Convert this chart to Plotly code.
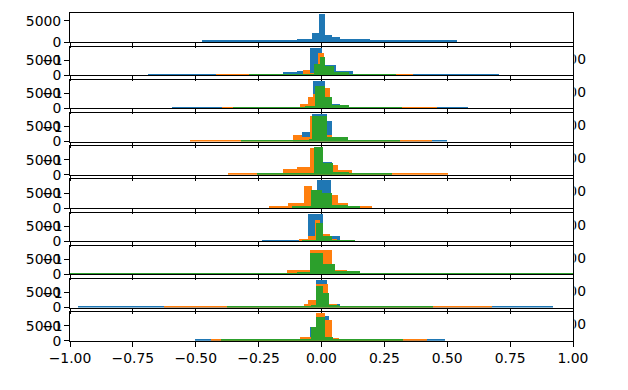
import plotly.graph_objects as go

# ---------------- data: histogram bin edges and counts per panel ----------------
# panel 1 (blue only)
p1_blue_edges = [-0.476, -0.099, -0.039, -0.008, 0.012, 0.041, 0.074, 0.193, 0.538]
p1_blue_counts = [450, 700, 1950, 6420, 1480, 1170, 700, 450]

# panel 2
p2_blue_edges = [-0.69, -0.152, -0.099, -0.046, 0.002, 0.058, 0.125, 0.706]
p2_blue_counts = [600, 1400, 1730, 9100, 3700, 1500, 600]
p2_orange_edges = [-0.42, -0.074, -0.046, -0.014, 0.01, 0.04, 0.11, 0.364]
p2_orange_counts = [600, 1900, 800, 7700, 2500, 1000, 600]
p2_green_edges = [-0.29, -0.03, -0.006, 0.014, 0.05, 0.11, 0.296]
p2_green_counts = [600, 4000, 6100, 3200, 1300, 600]

# panel 3
p3_blue_edges = [-0.596, -0.085, -0.034, 0.014, 0.041, 0.074, 0.583]
p3_blue_counts = [600, 1500, 9100, 3000, 1650, 600]
p3_orange_edges = [-0.396, -0.085, -0.054, -0.034, 0.014, 0.034, 0.074, 0.458]
p3_orange_counts = [600, 1600, 3900, 5000, 6900, 1300, 600]
p3_green_edges = [-0.352, -0.066, -0.026, 0.014, 0.04, 0.11, 0.32]
p3_green_counts = [600, 1000, 7500, 4000, 1100, 600]

# panel 4
p4_blue_edges = [-0.112, -0.079, -0.039, 0.02, 0.04, 0.1, 0.498]
p4_blue_counts = [1500, 3300, 9100, 7060, 1500, 600]
p4_orange_edges = [-0.523, -0.112, -0.079, -0.046, 0.02, 0.04, 0.1, 0.438]
p4_orange_counts = [600, 2300, 1500, 8700, 2200, 1500, 600]
p4_green_edges = [-0.321, -0.046, -0.039, 0.02, 0.04, 0.106, 0.312]
p4_green_counts = [600, 1000, 8700, 1500, 1500, 600]

# panel 5
p5_blue_edges = [-0.046, 0.006, 0.04]
p5_blue_counts = [8000, 4250]
p5_orange_edges = [-0.373, -0.152, -0.099, -0.046, -0.006, 0.067, 0.12, 0.502]
p5_orange_counts = [600, 1770, 2600, 8800, 3200, 1500, 600]
p5_green_edges = [-0.255, -0.03, 0.006, 0.046, 0.11, 0.28]
p5_green_counts = [600, 9100, 4000, 1000, 600]

# panel 6
p6_blue_edges = [-0.018, 0.036]
p6_blue_counts = [9100]
p6_orange_edges = [-0.208, -0.132, -0.07, -0.036, 0.036, 0.067, 0.107, 0.2]
p6_orange_counts = [650, 1440, 7400, 4000, 4150, 1440, 650]
p6_green_edges = [-0.118, -0.04, 0.002, 0.042, 0.107, 0.153]
p6_green_counts = [600, 5900, 4900, 900, 600]

# panel 7
p7_blue_edges = [-0.238, -0.052, 0.007, 0.034, 0.074, 0.125]
p7_blue_counts = [600, 9100, 2450, 1900, 600]
p7_orange_edges = [-0.09, -0.052, -0.026, -0.006, 0.007, 0.034, 0.06]
p7_orange_counts = [900, 2000, 7350, 3500, 2450, 900]
p7_green_edges = [-0.079, -0.02, 0.007, 0.04, 0.133]
p7_green_counts = [600, 6200, 1800, 600]

# panel 8
p8_blue_edges = [-0.03, 0.0]
p8_blue_counts = [600]
p8_orange_edges = [-0.589, -0.136, -0.046, 0.04, 0.1]
p8_orange_counts = [600, 1470, 8340, 1470]
p8_green_edges = [-1.0, -0.099, -0.044, 0.007, 0.053, 0.153, 1.0]
p8_green_counts = [600, 980, 7200, 3430, 1240, 600]

# panel 9
p9_blue_edges = [-0.97, -0.07, -0.022, 0.02, 0.046, 0.074, 0.92]
p9_blue_counts = [600, 1400, 9100, 1400, 1200, 600]
p9_orange_edges = [-0.625, -0.07, -0.052, -0.02, 0.026, 0.06, 0.677]
p9_orange_counts = [600, 1400, 2500, 7850, 1400, 600]
p9_green_edges = [-0.377, -0.04, -0.02, 0.005, 0.03, 0.07, 0.445]
p9_green_counts = [600, 1000, 7200, 5000, 1000, 600]

# panel 10
p10_blue_edges = [-0.503, -0.046, -0.034, 0.014, 0.031, 0.05, 0.49]
p10_blue_counts = [600, 4580, 4000, 8100, 1000, 600]
p10_orange_edges = [-0.44, -0.085, -0.02, 0.014, 0.04, 0.07, 0.418]
p10_orange_counts = [600, 1300, 9100, 6800, 1000, 600]
p10_green_edges = [-0.40, -0.04, -0.02, 0.014, 0.046, 0.324]
p10_green_counts = [600, 4580, 7850, 1300, 600]

PANEL_DATA = [
    [("#1f77b4", p1_blue_edges, p1_blue_counts)],
    [("#1f77b4", p2_blue_edges, p2_blue_counts), ("#ff7f0e", p2_orange_edges, p2_orange_counts), ("#2ca02c", p2_green_edges, p2_green_counts)],
    [("#1f77b4", p3_blue_edges, p3_blue_counts), ("#ff7f0e", p3_orange_edges, p3_orange_counts), ("#2ca02c", p3_green_edges, p3_green_counts)],
    [("#1f77b4", p4_blue_edges, p4_blue_counts), ("#ff7f0e", p4_orange_edges, p4_orange_counts), ("#2ca02c", p4_green_edges, p4_green_counts)],
    [("#1f77b4", p5_blue_edges, p5_blue_counts), ("#ff7f0e", p5_orange_edges, p5_orange_counts), ("#2ca02c", p5_green_edges, p5_green_counts)],
    [("#1f77b4", p6_blue_edges, p6_blue_counts), ("#ff7f0e", p6_orange_edges, p6_orange_counts), ("#2ca02c", p6_green_edges, p6_green_counts)],
    [("#1f77b4", p7_blue_edges, p7_blue_counts), ("#ff7f0e", p7_orange_edges, p7_orange_counts), ("#2ca02c", p7_green_edges, p7_green_counts)],
    [("#1f77b4", p8_blue_edges, p8_blue_counts), ("#ff7f0e", p8_orange_edges, p8_orange_counts), ("#2ca02c", p8_green_edges, p8_green_counts)],
    [("#1f77b4", p9_blue_edges, p9_blue_counts), ("#ff7f0e", p9_orange_edges, p9_orange_counts), ("#2ca02c", p9_green_edges, p9_green_counts)],
    [("#1f77b4", p10_blue_edges, p10_blue_counts), ("#ff7f0e", p10_orange_edges, p10_orange_counts), ("#2ca02c", p10_green_edges, p10_green_counts)],
]
Y_MAX = [6740, 9575, 9575, 9575, 9575, 9575, 9575, 9575, 9575, 9575]
X_TICKS = [-1.0, -0.75, -0.5, -0.25, 0.0, 0.25, 0.5, 0.75, 1.0]
X_TICK_LABELS = ["\u22121.00", "\u22120.75", "\u22120.50", "\u22120.25", "0.00", "0.25", "0.50", "0.75", "1.00"]
Y_TICKS = [0, 5000]
Y_TICK_LABELS = ["0", "5000"]
LEFT_EXTRA_LABEL = "\u22121"
RIGHT_EXTRA_LABEL = "00"

# ---------------- layout geometry ----------------
# the page body adds an 8px offset, so the figure is 8px smaller and coordinates shifted
OFF = 8
W, H = 628 - OFF, 390 - OFF
LEFT, RIGHT = 70 - OFF, 573 - OFF
TOP0, PITCH, AX_H = 13.3 - OFF, 33.2, 28.7
FONT = dict(family="DejaVu Sans", size=13.9, color="black")

fig = go.Figure()
layout = dict(
    width=W, height=H, margin=dict(l=0, r=0, t=0, b=0, autoexpand=False),
    paper_bgcolor="white", plot_bgcolor="white",
    showlegend=False, barmode="overlay", bargap=0, font=FONT,
)
annotations = []
right_x, right_y = [], []
n = len(PANEL_DATA)
for i in range(n):
    k = i + 1
    xa = "x" if k == 1 else f"x{k}"
    ya = "y" if k == 1 else f"y{k}"
    for color, edges, counts in PANEL_DATA[i]:
        centers = [(edges[j] + edges[j + 1]) / 2 for j in range(len(counts))]
        widths = [edges[j + 1] - edges[j] for j in range(len(counts))]
        fig.add_trace(go.Bar(
            x=centers, y=counts, width=widths, marker=dict(color=color, line=dict(width=0)),
            opacity=1, xaxis=xa, yaxis=ya, hoverinfo="skip",
        ))
    top = TOP0 + PITCH * i
    bot = top + AX_H
    layout["xaxis" if k == 1 else f"xaxis{k}"] = dict(
        domain=[LEFT / W, RIGHT / W], anchor=ya, range=[-1, 1], automargin=False,
        tickvals=X_TICKS, ticktext=X_TICK_LABELS, showticklabels=(k == n),
        ticks="outside", ticklen=5, tickwidth=1, tickcolor="black",
        showline=True, linecolor="black", linewidth=1, mirror=True,
        showgrid=False, zeroline=False, tickfont=FONT,
    )
    layout["yaxis" if k == 1 else f"yaxis{k}"] = dict(
        domain=[1 - bot / H, 1 - top / H], anchor=xa, range=[0, Y_MAX[i]], automargin=False,
        tickvals=Y_TICKS, ticktext=Y_TICK_LABELS,
        ticks="outside", ticklen=5, tickwidth=1, tickcolor="black",
        showline=True, linecolor="black", linewidth=1, mirror=True,
        showgrid=False, zeroline=False, tickfont=FONT,
    )
    if k > 1:
        y5000_px = bot - AX_H * 5000 / Y_MAX[i]
        annotations.append(dict(x=(63 - OFF) / W, y=1 - y5000_px / H, xref="paper", yref="paper",
                                text=LEFT_EXTRA_LABEL, showarrow=False, xanchor="right", yanchor="middle",
                                font=FONT, borderpad=0))
        right_x.append(577.2 - OFF)
        right_y.append(y5000_px)

# right-hand labels, partly hidden behind the axes edge (clipped text on a helper axis)
fig.add_trace(go.Scatter(
    x=right_x, y=right_y, mode="text", text=[RIGHT_EXTRA_LABEL] * len(right_x),
    textposition="middle center", textfont=FONT, cliponaxis=True,
    xaxis="x11", yaxis="y11", hoverinfo="skip",
))
layout["xaxis11"] = dict(domain=[(RIGHT + 1.5) / W, 1], anchor="y11", range=[RIGHT + 1.5, W],
                         visible=False, automargin=False)
layout["yaxis11"] = dict(domain=[0, 1], anchor="x11", range=[H, 0], visible=False, automargin=False)
layout["annotations"] = annotations
fig.update_layout(**layout)
fig.write_html("out.html")
